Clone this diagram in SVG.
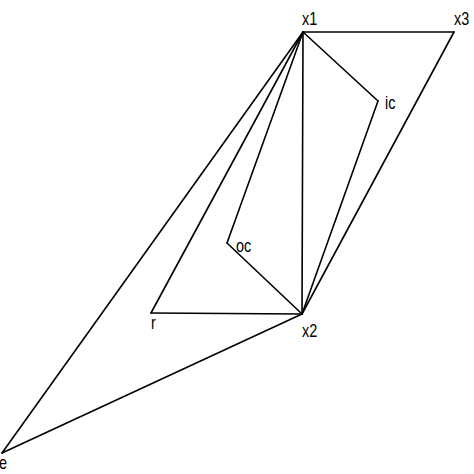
<svg xmlns="http://www.w3.org/2000/svg" width="474" height="474" viewBox="0 0 474 474">
<style>
.e{stroke:#000;stroke-width:1.6;fill:none;stroke-linecap:round;stroke-linejoin:round}
.l{font-family:"Liberation Sans",Arial,sans-serif;font-size:18.5px;fill:#000}
</style>
<rect width="474" height="474" fill="#fff"/>
<g id="connectors">
<line class="e" x1="303" y1="32" x2="454" y2="32"/>
<line class="e" x1="454" y1="32" x2="302" y2="314"/>
<line class="e" x1="303" y1="32" x2="302" y2="314"/>
<line class="e" x1="303" y1="32" x2="378" y2="101"/>
<line class="e" x1="378" y1="101" x2="302" y2="314"/>
<line class="e" x1="303" y1="32" x2="227" y2="243"/>
<line class="e" x1="227" y1="243" x2="302" y2="314"/>
<line class="e" x1="303" y1="32" x2="151" y2="313"/>
<line class="e" x1="151" y1="313" x2="302" y2="314"/>
<line class="e" x1="303" y1="32" x2="2" y2="453"/>
<line class="e" x1="2" y1="453" x2="302" y2="314"/>
</g>
<g id="x1"><text class="l" transform="translate(302,25) scale(0.78,1)">x1</text></g>
<g id="x3"><text class="l" transform="translate(454,25) scale(0.78,1)">x3</text></g>
<g id="ic"><text class="l" transform="translate(385,109) scale(0.78,1)">ic</text></g>
<g id="oc"><text class="l" transform="translate(236,252) scale(0.78,1)">oc</text></g>
<g id="x2"><text class="l" transform="translate(302,337) scale(0.78,1)">x2</text></g>
<g id="r"><text class="l" transform="translate(151,329) scale(0.78,1)">r</text></g>
<g id="e"><text class="l" transform="translate(-1,469) scale(0.78,1)">e</text></g>
</svg>
